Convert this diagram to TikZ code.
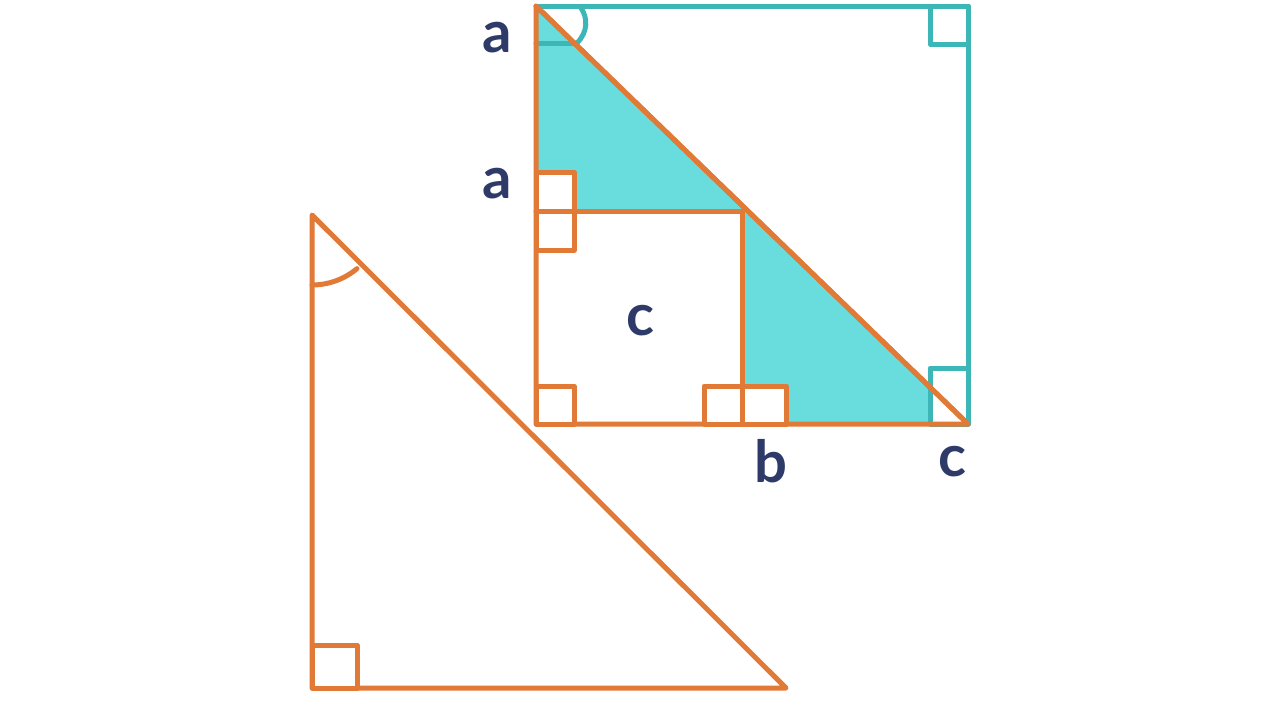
\documentclass[tikz,border=0pt]{standalone}
\usepackage{fontspec}
\setmainfont{Lato}
\usepackage{xcolor}
\definecolor{edgeorange}{HTML}{E07A36}
\definecolor{edgeteal}{HTML}{3DB6B8}
\definecolor{fillteal}{HTML}{69DCDE}
\definecolor{labelnavy}{HTML}{2E3A68}

\begin{document}
\begin{tikzpicture}
[
x=1pt, y=-1pt,
line-o/.style={draw=edgeorange, line width=5pt, line join=round, line cap=round},
line-t/.style={draw=edgeteal, line width=5pt, line join=round, line cap=round},
mark-o/.style={line-o, fill=white},
mark-t/.style={line-t, fill=white},
text-a/.style={text=labelnavy, font=\fontsize{58}{58}\selectfont\bfseries, inner sep=0pt}
]
\useasboundingbox (0,0) rectangle (1280,720);
% corners of the square
\coordinate (sq-tl) at (536,6);
\coordinate (sq-tr) at (968,6);
\coordinate (sq-br) at (968,424);
\coordinate (sq-bl) at (536,424);
\coordinate (in-l)  at (536,211);
\coordinate (in-m)  at (742,211);
\coordinate (in-b)  at (742,424);
\coordinate (dg-m)  at (742,205.3);
% corners of the loose triangle
\coordinate (tr-top) at (312,215);
\coordinate (tr-rt)  at (312,688);
\coordinate (tr-end) at (786,688);
% shaded triangles
\fill[fillteal] (sq-tl) -- (in-l) -- (in-m) -- (dg-m) -- cycle;
\fill[fillteal] (dg-m) -- (in-b) -- (sq-br) -- cycle;
% teal square
\draw[line-t] (sq-tl) -- (sq-tr) -- (sq-br);
\draw[mark-t] (930,6) rectangle (968,44);
\draw[mark-t] (930,368) rectangle (968,424);
\draw[line-t] (536,43) -- (577,43);
\draw[line-t] (581,8) .. controls (588,18) and (588,32) .. (577,43);
% orange frame
\draw[line-o] (sq-tl) -- (sq-bl) -- (sq-br) -- cycle;
\draw[line-o] (in-l) -- (in-m) -- (in-b);
\draw[mark-o] (536,172) rectangle (574,211);
\draw[mark-o] (536,211) rectangle (574,250);
\draw[mark-o] (536,386) rectangle (574,424);
\draw[mark-o] (704,386) rectangle (742,424);
\draw[mark-o] (742,386) rectangle (786,424);
\draw[line-o] (sq-tl) -- (sq-br);
% loose triangle
\draw[line-o] (tr-top) -- (tr-rt) -- (tr-end) -- cycle;
\draw[mark-o] (312,645) rectangle (357,688);
\draw[line-o] (312,285) arc (90:50:70);
% labels
\node (lab-a1) [text-a] at (497,38)  {a};
\node (lab-a2) [text-a] at (497,184) {a};
\node (lab-c1) [text-a] at (640,321) {c};
\node (lab-b)  [text-a] at (771,461) {b};
\node (lab-c2) [text-a] at (952,462) {c};
\end{tikzpicture}
\end{document}
